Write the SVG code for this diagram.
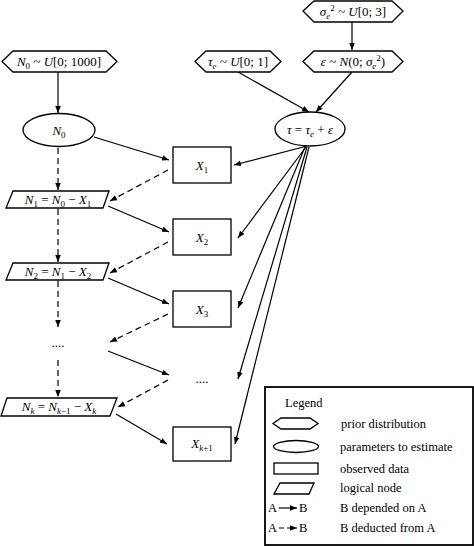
<svg xmlns="http://www.w3.org/2000/svg" width="474" height="546" viewBox="0 0 474 546">
<defs>
<marker id="ah" viewBox="0 0 10 10" refX="10" refY="5" markerWidth="7" markerHeight="7" orient="auto" markerUnits="userSpaceOnUse">
<path d="M0,1 L10,5 L0,9 Z" fill="#000"/>
</marker>
<style>
.sh{fill:#fff;stroke:#000;stroke-width:1.3}
.ln{stroke:#000;stroke-width:1.2;fill:none;marker-end:url(#ah)}
.dl{stroke:#000;stroke-width:1.2;fill:none;stroke-dasharray:6,4;marker-end:url(#ah)}
.m{font-family:"Liberation Serif",serif;font-size:13px;font-style:italic;fill:#000;text-anchor:middle}
.r{font-style:normal}
.s{font-size:9px}
.lg{font-family:"Liberation Serif",serif;font-size:12.5px;fill:#000}
</style>
</defs>
<rect width="474" height="546" fill="#fff"/>
<g id="connectors">
<line class="ln" x1="58" y1="72" x2="58" y2="113"/>
<line class="ln" x1="352" y1="22" x2="352" y2="50"/>
<line class="ln" x1="238" y1="72" x2="309" y2="112"/>
<line class="ln" x1="352" y1="72" x2="316" y2="112"/>
<line class="dl" x1="58" y1="148" x2="58" y2="190"/>
<line class="dl" x1="58" y1="209" x2="58" y2="262"/>
<line class="dl" x1="58" y1="281" x2="58" y2="327"/>
<line class="dl" x1="58" y1="360" x2="58" y2="397"/>
<line class="ln" x1="94" y1="137" x2="169" y2="160"/>
<line class="ln" x1="108" y1="206" x2="169" y2="232"/>
<line class="ln" x1="108" y1="278" x2="169" y2="304"/>
<line class="ln" x1="108" y1="351" x2="169" y2="375"/>
<line class="ln" x1="116" y1="414" x2="167" y2="444"/>
<line class="dl" x1="168" y1="170" x2="110" y2="201"/>
<line class="dl" x1="168" y1="242" x2="110" y2="273"/>
<line class="dl" x1="168" y1="314" x2="110" y2="342"/>
<line class="dl" x1="168" y1="380" x2="118" y2="407"/>
<line class="ln" x1="307" y1="146" x2="234" y2="165"/>
<line class="ln" x1="306" y1="147" x2="238" y2="238"/>
<line class="ln" x1="305" y1="147" x2="238" y2="308"/>
<line class="ln" x1="307" y1="147" x2="238" y2="379"/>
<line class="ln" x1="309" y1="147" x2="235" y2="444"/>
</g>
<g id="n-sigma">
<polygon class="sh" points="303,11 314,1 392,1 403,11 392,22 314,22"/>
<text class="m" x="353" y="16">σ<tspan class="s" dy="3">e</tspan><tspan class="s r" dy="-8">2</tspan><tspan dy="5"> ~ U</tspan><tspan class="r">[0; 3]</tspan></text>
</g>
<g id="n-eps">
<polygon class="sh" points="303,61.5 314,51 392,51 403,61.5 392,72 314,72"/>
<text class="m" x="353" y="66">ε<tspan class="r"> ~ </tspan>N<tspan class="r">(0; </tspan>σ<tspan class="s" dy="3">e</tspan><tspan class="s r" dy="-8">2</tspan><tspan class="r" dy="5">)</tspan></text>
</g>
<g id="n-taue">
<polygon class="sh" points="195,61.5 206,51 270,51 281,61.5 270,72 206,72"/>
<text class="m" x="238" y="66">τ<tspan class="s" dy="3">e</tspan><tspan dy="-3"> ~ U</tspan><tspan class="r">[0; 1]</tspan></text>
</g>
<g id="n-tau">
<ellipse class="sh" cx="310" cy="129" rx="35" ry="17"/>
<text class="m" x="310" y="134">τ <tspan class="r">=</tspan> τ<tspan class="s" dy="3">e</tspan><tspan class="r" dy="-3"> + </tspan>ε</text>
</g>
<g id="n-N0prior">
<polygon class="sh" points="2,61.5 13,51 106,51 117,61.5 106,72 13,72"/>
<text class="m" x="59" y="66">N<tspan class="s r" dy="3">0</tspan><tspan dy="-3"> ~ U</tspan><tspan class="r">[0; 1000]</tspan></text>
</g>
<g id="n-N0">
<ellipse class="sh" cx="59" cy="130" rx="36" ry="16.5"/>
<text class="m" x="59" y="135">N<tspan class="s r" dy="3">0</tspan></text>
</g>
<g id="n-N1">
<polygon class="sh" points="13,191 109,191 103,208 6,208"/>
<text class="m" x="58" y="204">N<tspan class="s r" dy="3">1</tspan><tspan class="r" dy="-3"> = </tspan>N<tspan class="s r" dy="3">0</tspan><tspan class="r" dy="-3"> − </tspan>X<tspan class="s r" dy="3">1</tspan></text>
</g>
<g id="n-N2">
<polygon class="sh" points="13,263 109,263 103,280 6,280"/>
<text class="m" x="58" y="276">N<tspan class="s r" dy="3">2</tspan><tspan class="r" dy="-3"> = </tspan>N<tspan class="s r" dy="3">1</tspan><tspan class="r" dy="-3"> − </tspan>X<tspan class="s r" dy="3">2</tspan></text>
</g>
<g id="n-dotsL">
<text class="m r" x="58" y="347">....</text>
</g>
<g id="n-Nk">
<polygon class="sh" points="7,398 117,398 110,416 1,416" />
<text class="m" x="59" y="411">N<tspan class="s" dy="3">k</tspan><tspan class="r" dy="-3"> = </tspan>N<tspan class="s" dy="3">k</tspan><tspan class="s r">−1</tspan><tspan class="r" dy="-3"> − </tspan>X<tspan class="s" dy="3">k</tspan></text>
</g>
<g id="n-X1">
<rect class="sh" x="173" y="147" width="58" height="36"/>
<text class="m" x="202" y="170">X<tspan class="s r" dy="3">1</tspan></text>
</g>
<g id="n-X2">
<rect class="sh" x="173" y="219" width="58" height="36"/>
<text class="m" x="202" y="242">X<tspan class="s r" dy="3">2</tspan></text>
</g>
<g id="n-X3">
<rect class="sh" x="173" y="291" width="58" height="36"/>
<text class="m" x="202" y="314">X<tspan class="s r" dy="3">3</tspan></text>
</g>
<g id="n-dotsR">
<text class="m r" x="202" y="383">....</text>
</g>
<g id="n-Xk1">
<rect class="sh" x="173" y="427" width="58" height="34"/>
<text class="m" x="202" y="448">X<tspan class="s" dy="3">k</tspan><tspan class="s r">+1</tspan></text>
</g>
<g id="legend">
<rect x="265" y="387" width="208" height="158" fill="#fff" stroke="#000" stroke-width="1.8"/>
<text class="lg" x="285" y="407">Legend</text>
<polygon class="sh" points="273,423.5 281,418 310,418 318,423.5 310,429 281,429"/>
<text class="lg" x="341" y="428">prior distribution</text>
<ellipse class="sh" cx="296" cy="446.5" rx="22.5" ry="6"/>
<text class="lg" x="340" y="451">parameters to estimate</text>
<rect class="sh" x="274" y="463" width="44" height="11"/>
<text class="lg" x="340" y="473">observed data</text>
<polygon class="sh" points="280,483 314,483 309,494 274,494"/>
<text class="lg" x="340" y="492">logical node</text>
<text class="lg" x="268" y="512">A</text>
<line class="ln" x1="279" y1="508" x2="297" y2="508"/>
<text class="lg" x="299" y="512">B</text>
<text class="lg" x="340" y="512">B depended on A</text>
<text class="lg" x="268" y="532">A</text>
<line class="dl" x1="279" y1="528" x2="297" y2="528" style="stroke-dasharray:5,3"/>
<text class="lg" x="299" y="532">B</text>
<text class="lg" x="340" y="532">B deducted from A</text>
</g>
</svg>
